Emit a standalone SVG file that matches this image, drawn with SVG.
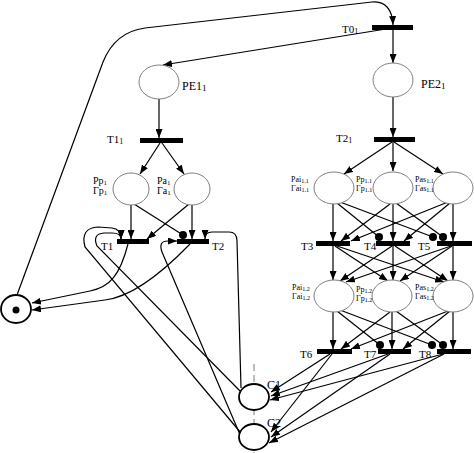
<svg xmlns="http://www.w3.org/2000/svg" width="474" height="453" viewBox="0 0 474 453">
<defs>
<marker id="ah" markerUnits="userSpaceOnUse" markerWidth="9" markerHeight="7" refX="9" refY="3.5" orient="auto">
<path d="M0,0 L9,3.5 L0,7 z" fill="#000"/>
</marker>
</defs>
<style>
.c{fill:none;stroke:#000;stroke-width:1.2}
.a{marker-end:url(#ah)}
.pl{fill:#fff;stroke:#808080;stroke-width:1}
.pk{fill:#fff;stroke:#000;stroke-width:1.8}
.bar{fill:#000}
.dot{fill:#000}
.t{font-family:"Liberation Serif","Times New Roman",serif;font-size:11px;fill:#000}
.tl{font-family:"Liberation Serif","Times New Roman",serif;font-size:12px;fill:#000}
.s{font-family:"Liberation Serif","Times New Roman",serif;font-size:10px;fill:#000}
.xs{font-family:"Liberation Serif","Times New Roman",serif;font-size:8px;fill:#000}
</style>
<rect width="474" height="453" fill="#fff"/>
<line x1="254" y1="364" x2="254" y2="453" stroke="#bdbdbd" stroke-width="2" stroke-dasharray="7,4"/>
<g id="connectors">
<path class="c a" d="M17,295 L103,62 Q115,32 145,28 L372,2 Q392,1 393,25"/>
<path class="c a" d="M386,29 L163,65"/>
<path class="c a" d="M393,30 L393,63"/>
<path class="c a" d="M159,99 L159,138"/>
<path class="c a" d="M393,97 L393,137"/>
<path class="c a" d="M160,143 L140,174"/>
<path class="c a" d="M162,143 L184,174"/>
<path class="c a" d="M131,205 L131,239"/>
<path class="c" d="M134,204 L183,235"/>
<path class="c a" d="M192,205 L192,239"/>
<path class="c a" d="M189,204 L147,239"/>
<path class="c a" d="M241,392 L97,246 Q92,234 104,233 L112,233 Q121,233 121,239"/>
<path class="c a" d="M241,433 L85,247 Q80,228 98,227 L112,228 Q121,229 121,239"/>
<path class="c a" d="M241,388 L237,241 Q237,232 229,232 L212,232 Q205,232 205,239"/>
<path class="c a" d="M241,437 L162,252 Q158,241 168,241 L177,241"/>
<path class="c a" d="M128,244 C120,275 110,287 90,291 L32,303"/>
<path class="c a" d="M190,244 C160,275 130,297 105,300 L32,310"/>
<path class="c a" d="M392,142 L344,174"/>
<path class="c a" d="M393,142 L393,171"/>
<path class="c a" d="M394,142 L443,174"/>
<path class="c a" d="M333,204 L333,241"/>
<path class="c" d="M337,203 L379,237"/>
<path class="c" d="M340,202 L433,237"/>
<path class="c a" d="M390,204 L341,241"/>
<path class="c a" d="M393,204 L393,241"/>
<path class="c" d="M396,203 L443,237"/>
<path class="c a" d="M448,202 L351,241"/>
<path class="c a" d="M450,203 L404,241"/>
<path class="c a" d="M453,204 L453,241"/>
<path class="c a" d="M333,246 L333,280"/>
<path class="c a" d="M335,246 L388,281"/>
<path class="c a" d="M337,246 L444,282"/>
<path class="c a" d="M392,246 L340,281"/>
<path class="c a" d="M393,246 L393,280"/>
<path class="c a" d="M395,246 L448,281"/>
<path class="c a" d="M451,246 L346,282"/>
<path class="c a" d="M452,246 L400,281"/>
<path class="c a" d="M453,246 L453,280"/>
<path class="c a" d="M333,312 L333,349"/>
<path class="c" d="M337,311 L380,345"/>
<path class="c" d="M340,310 L432,345"/>
<path class="c a" d="M390,312 L341,349"/>
<path class="c a" d="M392,312 L392,349"/>
<path class="c" d="M396,311 L443,345"/>
<path class="c a" d="M448,311 L351,349"/>
<path class="c a" d="M450,311 L403,349"/>
<path class="c a" d="M453,312 L453,349"/>
<path class="c a" d="M330,354 L271,392"/>
<path class="c a" d="M332,354 L271,432"/>
<path class="c a" d="M388,354 L271,396"/>
<path class="c a" d="M390,354 L271,437"/>
<path class="c a" d="M443,354 L270,400"/>
<path class="c a" d="M444,354 L269,443"/>
<circle class="dot" cx="183" cy="235" r="4"/>
<circle class="dot" cx="379" cy="237" r="4"/>
<circle class="dot" cx="433" cy="237" r="4"/>
<circle class="dot" cx="443" cy="237" r="4"/>
<circle class="dot" cx="380" cy="345" r="4"/>
<circle class="dot" cx="432" cy="345" r="4"/>
<circle class="dot" cx="443" cy="345" r="4"/>
</g>
<g id="P0"><ellipse class="pk" cx="16" cy="309" rx="15" ry="14"/><circle class="dot" cx="16" cy="310" r="3.5"/></g>
<g id="T01"><rect class="bar" x="372" y="25" width="41" height="5"/><text class="t" x="342" y="33">T0<tspan font-size="8" dy="1">1</tspan></text></g>
<g id="PE11"><ellipse class="pl" cx="159" cy="82" rx="20" ry="17"/><text class="tl" x="182" y="90">PE1<tspan font-size="9" dy="1">1</tspan></text></g>
<g id="PE21"><ellipse class="pl" cx="393" cy="80" rx="20" ry="17"/><text class="tl" x="421" y="88">PE2<tspan font-size="9" dy="1">1</tspan></text></g>
<g id="T11"><rect class="bar" x="140" y="138" width="43" height="5"/><text class="t" x="107" y="143">T1<tspan font-size="8" dy="1">1</tspan></text></g>
<g id="T21"><rect class="bar" x="374" y="137" width="41" height="5"/><text class="t" x="336" y="142">T2<tspan font-size="8" dy="1">1</tspan></text></g>
<g id="Pp1"><ellipse class="pl" cx="131" cy="189" rx="18" ry="16"/><text class="s" x="93" y="184">Pp<tspan font-size="7" dy="1">1</tspan></text><text class="s" x="93" y="194">Γp<tspan font-size="7" dy="1">1</tspan></text></g>
<g id="Pa1"><ellipse class="pl" cx="192" cy="189" rx="18" ry="16"/><text class="s" x="157" y="184">Pa<tspan font-size="7" dy="1">1</tspan></text><text class="s" x="157" y="194">Γa<tspan font-size="7" dy="1">1</tspan></text></g>
<g id="T1"><rect class="bar" x="117" y="239" width="32" height="5"/><text class="t" x="101" y="250">T1</text></g>
<g id="T2"><rect class="bar" x="177" y="239" width="32" height="5"/><text class="t" x="212" y="250">T2</text></g>
<g id="Pai11"><ellipse class="pl" cx="334" cy="188" rx="20" ry="16"/><text class="xs" x="291" y="182">Pai<tspan font-size="6" dy="1">1.1</tspan></text><text class="xs" x="291" y="191">Γai<tspan font-size="6" dy="1">1.1</tspan></text></g>
<g id="Pp11"><ellipse class="pl" cx="393" cy="188" rx="20" ry="16"/><text class="xs" x="356" y="182">Pp<tspan font-size="6" dy="1">1.1</tspan></text><text class="xs" x="356" y="191">Γp<tspan font-size="6" dy="1">1.1</tspan></text></g>
<g id="Pas11"><ellipse class="pl" cx="453" cy="188" rx="20" ry="16"/><text class="xs" x="415" y="182">Pas<tspan font-size="6" dy="1">1.1</tspan></text><text class="xs" x="415" y="191">Γas<tspan font-size="6" dy="1">1.1</tspan></text></g>
<g id="T3"><rect class="bar" x="316" y="241" width="34" height="5"/><text class="t" x="301" y="250">T3</text></g>
<g id="T4"><rect class="bar" x="376" y="241" width="34" height="5"/><text class="t" x="364" y="250">T4</text></g>
<g id="T5"><rect class="bar" x="437" y="241" width="35" height="5"/><text class="t" x="418" y="250">T5</text></g>
<g id="Pai12"><ellipse class="pl" cx="334" cy="296" rx="20" ry="16"/><text class="xs" x="292" y="290">Pai<tspan font-size="6" dy="1">1.2</tspan></text><text class="xs" x="292" y="299">Γai<tspan font-size="6" dy="1">1.2</tspan></text></g>
<g id="Pp12"><ellipse class="pl" cx="392" cy="296" rx="20" ry="16"/><text class="xs" x="356" y="292">Pp<tspan font-size="6" dy="1">1.2</tspan></text><text class="xs" x="356" y="301">Γp<tspan font-size="6" dy="1">1.2</tspan></text></g>
<g id="Pas12"><ellipse class="pl" cx="453" cy="296" rx="20" ry="16"/><text class="xs" x="415" y="290">Pas<tspan font-size="6" dy="1">1.2</tspan></text><text class="xs" x="415" y="299">Γas<tspan font-size="6" dy="1">1.2</tspan></text></g>
<g id="T6"><rect class="bar" x="317" y="349" width="35" height="5"/><text class="t" x="300" y="358">T6</text></g>
<g id="T7"><rect class="bar" x="378" y="349" width="33" height="5"/><text class="t" x="364" y="358">T7</text></g>
<g id="T8"><rect class="bar" x="437" y="349" width="34" height="5"/><text class="t" x="419" y="358">T8</text></g>
<g id="C1"><ellipse class="pk" cx="254" cy="397" rx="15" ry="13"/><text class="tl" x="267" y="389">C1</text></g>
<g id="C2"><ellipse class="pk" cx="254" cy="437" rx="15" ry="13"/><text class="tl" x="267" y="427">C2</text></g>
</svg>
